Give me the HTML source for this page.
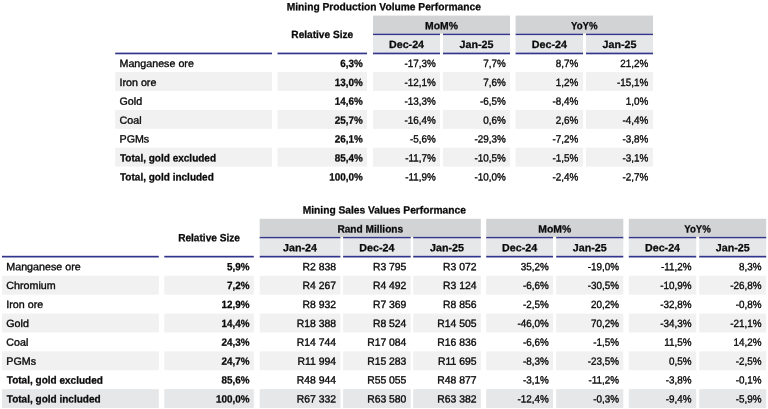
<!DOCTYPE html>
<html><head><meta charset="utf-8"><title>Mining Performance</title>
<style>
html,body{margin:0;padding:0;background:#fff;}
body{width:768px;height:409px;overflow:hidden;}
svg{display:block;filter:blur(0.3px);font-family:"Liberation Sans",sans-serif;fill:#0a0a0a;}
text{stroke:#0a0a0a;stroke-width:0.36px;stroke-linejoin:round;}
text.b{font-weight:700;stroke-width:0.28px;}
</style></head><body>
<svg width="768" height="409" viewBox="0 0 768 409">
<text transform="translate(383.80 10.30) rotate(0.03) scale(0.975 1)" text-anchor="middle" font-size="10.5" class="b">Mining Production Volume Performance</text>
<rect x="115.20" y="52.60" width="156.80" height="1.70" fill="#33358b"/>
<rect x="277.50" y="52.60" width="89.50" height="1.70" fill="#33358b"/>
<text transform="translate(322.25 38.05) rotate(0.03) scale(0.965 1)" text-anchor="middle" font-size="10.5" class="b">Relative Size</text>
<rect x="373.00" y="15.60" width="137.00" height="18.05" fill="#d1d3d4"/>
<text transform="translate(441.50 29.30) rotate(0.03) scale(0.99 1)" text-anchor="middle" font-size="10.5" class="b">MoM%</text>
<rect x="373.00" y="33.65" width="67.00" height="1.70" fill="#33358b"/>
<rect x="373.00" y="35.35" width="67.00" height="17.25" fill="#e6e7e8"/>
<rect x="373.00" y="52.60" width="67.00" height="1.70" fill="#33358b"/>
<text transform="translate(406.50 48.10) rotate(0.03) scale(1.02 1)" text-anchor="middle" font-size="10.5" class="b">Dec-24</text>
<rect x="443.00" y="33.65" width="67.00" height="1.70" fill="#33358b"/>
<rect x="443.00" y="35.35" width="67.00" height="17.25" fill="#e6e7e8"/>
<rect x="443.00" y="52.60" width="67.00" height="1.70" fill="#33358b"/>
<text transform="translate(476.50 48.10) rotate(0.03) scale(1.02 1)" text-anchor="middle" font-size="10.5" class="b">Jan-25</text>
<rect x="515.60" y="15.60" width="137.40" height="18.05" fill="#d1d3d4"/>
<text transform="translate(584.30 29.30) rotate(0.03) scale(0.92 1)" text-anchor="middle" font-size="10.5" class="b">YoY%</text>
<rect x="515.60" y="33.65" width="67.40" height="1.70" fill="#33358b"/>
<rect x="515.60" y="35.35" width="67.40" height="17.25" fill="#e6e7e8"/>
<rect x="515.60" y="52.60" width="67.40" height="1.70" fill="#33358b"/>
<text transform="translate(549.30 48.10) rotate(0.03) scale(1.02 1)" text-anchor="middle" font-size="10.5" class="b">Dec-24</text>
<rect x="586.00" y="33.65" width="67.00" height="1.70" fill="#33358b"/>
<rect x="586.00" y="35.35" width="67.00" height="17.25" fill="#e6e7e8"/>
<rect x="586.00" y="52.60" width="67.00" height="1.70" fill="#33358b"/>
<text transform="translate(619.50 48.10) rotate(0.03) scale(1.02 1)" text-anchor="middle" font-size="10.5" class="b">Jan-25</text>
<text transform="translate(119.50 67.00) rotate(0.03) scale(1.02 1)" text-anchor="start" font-size="10.5">Manganese ore</text>
<text transform="translate(362.70 67.00) rotate(0.03) scale(0.94 1)" text-anchor="end" font-size="10.5" class="b">6,3%</text>
<text transform="translate(435.70 67.00) rotate(0.03) scale(0.94 1)" text-anchor="end" font-size="10.5">-17,3%</text>
<text transform="translate(505.70 67.00) rotate(0.03) scale(0.94 1)" text-anchor="end" font-size="10.5">7,7%</text>
<text transform="translate(578.20 67.00) rotate(0.03) scale(0.94 1)" text-anchor="end" font-size="10.5">8,7%</text>
<text transform="translate(648.20 67.00) rotate(0.03) scale(0.94 1)" text-anchor="end" font-size="10.5">21,2%</text>
<rect x="115.20" y="72.10" width="156.80" height="18.90" fill="#f1f1f1"/>
<rect x="277.50" y="72.10" width="89.50" height="18.90" fill="#f1f1f1"/>
<rect x="373.00" y="72.10" width="67.00" height="18.90" fill="#f1f1f1"/>
<rect x="443.00" y="72.10" width="67.00" height="18.90" fill="#f1f1f1"/>
<rect x="515.60" y="72.10" width="67.40" height="18.90" fill="#f1f1f1"/>
<rect x="586.00" y="72.10" width="67.00" height="18.90" fill="#f1f1f1"/>
<text transform="translate(119.50 85.90) rotate(0.03) scale(1.02 1)" text-anchor="start" font-size="10.5">Iron ore</text>
<text transform="translate(362.70 85.90) rotate(0.03) scale(0.94 1)" text-anchor="end" font-size="10.5" class="b">13,0%</text>
<text transform="translate(435.70 85.90) rotate(0.03) scale(0.94 1)" text-anchor="end" font-size="10.5">-12,1%</text>
<text transform="translate(505.70 85.90) rotate(0.03) scale(0.94 1)" text-anchor="end" font-size="10.5">7,6%</text>
<text transform="translate(578.20 85.90) rotate(0.03) scale(0.94 1)" text-anchor="end" font-size="10.5">1,2%</text>
<text transform="translate(648.20 85.90) rotate(0.03) scale(0.94 1)" text-anchor="end" font-size="10.5">-15,1%</text>
<text transform="translate(119.50 104.80) rotate(0.03) scale(1.02 1)" text-anchor="start" font-size="10.5">Gold</text>
<text transform="translate(362.70 104.80) rotate(0.03) scale(0.94 1)" text-anchor="end" font-size="10.5" class="b">14,6%</text>
<text transform="translate(435.70 104.80) rotate(0.03) scale(0.94 1)" text-anchor="end" font-size="10.5">-13,3%</text>
<text transform="translate(505.70 104.80) rotate(0.03) scale(0.94 1)" text-anchor="end" font-size="10.5">-6,5%</text>
<text transform="translate(578.20 104.80) rotate(0.03) scale(0.94 1)" text-anchor="end" font-size="10.5">-8,4%</text>
<text transform="translate(648.20 104.80) rotate(0.03) scale(0.94 1)" text-anchor="end" font-size="10.5">1,0%</text>
<rect x="115.20" y="109.90" width="156.80" height="18.90" fill="#f1f1f1"/>
<rect x="277.50" y="109.90" width="89.50" height="18.90" fill="#f1f1f1"/>
<rect x="373.00" y="109.90" width="67.00" height="18.90" fill="#f1f1f1"/>
<rect x="443.00" y="109.90" width="67.00" height="18.90" fill="#f1f1f1"/>
<rect x="515.60" y="109.90" width="67.40" height="18.90" fill="#f1f1f1"/>
<rect x="586.00" y="109.90" width="67.00" height="18.90" fill="#f1f1f1"/>
<text transform="translate(119.50 123.70) rotate(0.03) scale(1.02 1)" text-anchor="start" font-size="10.5">Coal</text>
<text transform="translate(362.70 123.70) rotate(0.03) scale(0.94 1)" text-anchor="end" font-size="10.5" class="b">25,7%</text>
<text transform="translate(435.70 123.70) rotate(0.03) scale(0.94 1)" text-anchor="end" font-size="10.5">-16,4%</text>
<text transform="translate(505.70 123.70) rotate(0.03) scale(0.94 1)" text-anchor="end" font-size="10.5">0,6%</text>
<text transform="translate(578.20 123.70) rotate(0.03) scale(0.94 1)" text-anchor="end" font-size="10.5">2,6%</text>
<text transform="translate(648.20 123.70) rotate(0.03) scale(0.94 1)" text-anchor="end" font-size="10.5">-4,4%</text>
<text transform="translate(119.50 142.60) rotate(0.03) scale(1.02 1)" text-anchor="start" font-size="10.5">PGMs</text>
<text transform="translate(362.70 142.60) rotate(0.03) scale(0.94 1)" text-anchor="end" font-size="10.5" class="b">26,1%</text>
<text transform="translate(435.70 142.60) rotate(0.03) scale(0.94 1)" text-anchor="end" font-size="10.5">-5,6%</text>
<text transform="translate(505.70 142.60) rotate(0.03) scale(0.94 1)" text-anchor="end" font-size="10.5">-29,3%</text>
<text transform="translate(578.20 142.60) rotate(0.03) scale(0.94 1)" text-anchor="end" font-size="10.5">-7,2%</text>
<text transform="translate(648.20 142.60) rotate(0.03) scale(0.94 1)" text-anchor="end" font-size="10.5">-3,8%</text>
<rect x="115.20" y="147.70" width="156.80" height="18.90" fill="#f1f1f1"/>
<rect x="277.50" y="147.70" width="89.50" height="18.90" fill="#f1f1f1"/>
<rect x="373.00" y="147.70" width="67.00" height="18.90" fill="#f1f1f1"/>
<rect x="443.00" y="147.70" width="67.00" height="18.90" fill="#f1f1f1"/>
<rect x="515.60" y="147.70" width="67.40" height="18.90" fill="#f1f1f1"/>
<rect x="586.00" y="147.70" width="67.00" height="18.90" fill="#f1f1f1"/>
<text transform="translate(120.00 161.50) rotate(0.03) scale(0.955 1)" text-anchor="start" font-size="10.5" class="b">Total, gold excluded</text>
<text transform="translate(362.70 161.50) rotate(0.03) scale(0.94 1)" text-anchor="end" font-size="10.5" class="b">85,4%</text>
<text transform="translate(435.70 161.50) rotate(0.03) scale(0.94 1)" text-anchor="end" font-size="10.5">-11,7%</text>
<text transform="translate(505.70 161.50) rotate(0.03) scale(0.94 1)" text-anchor="end" font-size="10.5">-10,5%</text>
<text transform="translate(578.20 161.50) rotate(0.03) scale(0.94 1)" text-anchor="end" font-size="10.5">-1,5%</text>
<text transform="translate(648.20 161.50) rotate(0.03) scale(0.94 1)" text-anchor="end" font-size="10.5">-3,1%</text>
<text transform="translate(120.00 180.40) rotate(0.03) scale(0.955 1)" text-anchor="start" font-size="10.5" class="b">Total, gold included</text>
<text transform="translate(362.70 180.40) rotate(0.03) scale(0.94 1)" text-anchor="end" font-size="10.5" class="b">100,0%</text>
<text transform="translate(435.70 180.40) rotate(0.03) scale(0.94 1)" text-anchor="end" font-size="10.5">-11,9%</text>
<text transform="translate(505.70 180.40) rotate(0.03) scale(0.94 1)" text-anchor="end" font-size="10.5">-10,0%</text>
<text transform="translate(578.20 180.40) rotate(0.03) scale(0.94 1)" text-anchor="end" font-size="10.5">-2,4%</text>
<text transform="translate(648.20 180.40) rotate(0.03) scale(0.94 1)" text-anchor="end" font-size="10.5">-2,7%</text>
<text transform="translate(384.30 213.50) rotate(0.03) scale(0.975 1)" text-anchor="middle" font-size="10.5" class="b">Mining Sales Values Performance</text>
<rect x="2.00" y="255.80" width="156.80" height="1.70" fill="#33358b"/>
<rect x="164.30" y="255.80" width="89.50" height="1.70" fill="#33358b"/>
<text transform="translate(209.05 241.25) rotate(0.03) scale(0.965 1)" text-anchor="middle" font-size="10.5" class="b">Relative Size</text>
<rect x="259.70" y="218.80" width="221.10" height="18.05" fill="#d1d3d4"/>
<text transform="translate(370.25 232.50) rotate(0.03) scale(0.965 1)" text-anchor="middle" font-size="10.5" class="b">Rand Millions</text>
<rect x="259.70" y="236.85" width="80.70" height="1.70" fill="#33358b"/>
<rect x="259.70" y="238.55" width="80.70" height="17.25" fill="#e6e7e8"/>
<rect x="259.70" y="255.80" width="80.70" height="1.70" fill="#33358b"/>
<text transform="translate(300.05 251.30) rotate(0.03) scale(1.02 1)" text-anchor="middle" font-size="10.5" class="b">Jan-24</text>
<rect x="343.10" y="236.85" width="67.60" height="1.70" fill="#33358b"/>
<rect x="343.10" y="238.55" width="67.60" height="17.25" fill="#e6e7e8"/>
<rect x="343.10" y="255.80" width="67.60" height="1.70" fill="#33358b"/>
<text transform="translate(376.90 251.30) rotate(0.03) scale(1.02 1)" text-anchor="middle" font-size="10.5" class="b">Dec-24</text>
<rect x="413.20" y="236.85" width="67.60" height="1.70" fill="#33358b"/>
<rect x="413.20" y="238.55" width="67.60" height="17.25" fill="#e6e7e8"/>
<rect x="413.20" y="255.80" width="67.60" height="1.70" fill="#33358b"/>
<text transform="translate(447.00 251.30) rotate(0.03) scale(1.02 1)" text-anchor="middle" font-size="10.5" class="b">Jan-25</text>
<rect x="486.20" y="218.80" width="137.10" height="18.05" fill="#d1d3d4"/>
<text transform="translate(554.75 232.50) rotate(0.03) scale(0.99 1)" text-anchor="middle" font-size="10.5" class="b">MoM%</text>
<rect x="486.20" y="236.85" width="66.80" height="1.70" fill="#33358b"/>
<rect x="486.20" y="238.55" width="66.80" height="17.25" fill="#e6e7e8"/>
<rect x="486.20" y="255.80" width="66.80" height="1.70" fill="#33358b"/>
<text transform="translate(519.60 251.30) rotate(0.03) scale(1.02 1)" text-anchor="middle" font-size="10.5" class="b">Dec-24</text>
<rect x="556.20" y="236.85" width="67.10" height="1.70" fill="#33358b"/>
<rect x="556.20" y="238.55" width="67.10" height="17.25" fill="#e6e7e8"/>
<rect x="556.20" y="255.80" width="67.10" height="1.70" fill="#33358b"/>
<text transform="translate(589.75 251.30) rotate(0.03) scale(1.02 1)" text-anchor="middle" font-size="10.5" class="b">Jan-25</text>
<rect x="628.80" y="218.80" width="137.40" height="18.05" fill="#d1d3d4"/>
<text transform="translate(697.50 232.50) rotate(0.03) scale(0.92 1)" text-anchor="middle" font-size="10.5" class="b">YoY%</text>
<rect x="628.80" y="236.85" width="67.40" height="1.70" fill="#33358b"/>
<rect x="628.80" y="238.55" width="67.40" height="17.25" fill="#e6e7e8"/>
<rect x="628.80" y="255.80" width="67.40" height="1.70" fill="#33358b"/>
<text transform="translate(662.50 251.30) rotate(0.03) scale(1.02 1)" text-anchor="middle" font-size="10.5" class="b">Dec-24</text>
<rect x="699.20" y="236.85" width="67.00" height="1.70" fill="#33358b"/>
<rect x="699.20" y="238.55" width="67.00" height="17.25" fill="#e6e7e8"/>
<rect x="699.20" y="255.80" width="67.00" height="1.70" fill="#33358b"/>
<text transform="translate(732.70 251.30) rotate(0.03) scale(1.02 1)" text-anchor="middle" font-size="10.5" class="b">Jan-25</text>
<text transform="translate(6.30 270.20) rotate(0.03) scale(1.02 1)" text-anchor="start" font-size="10.5">Manganese ore</text>
<text transform="translate(249.50 270.20) rotate(0.03) scale(0.94 1)" text-anchor="end" font-size="10.5" class="b">5,9%</text>
<text transform="translate(336.10 270.20) rotate(0.03) scale(0.99 1)" text-anchor="end" font-size="10.5">R2 838</text>
<text transform="translate(406.40 270.20) rotate(0.03) scale(0.99 1)" text-anchor="end" font-size="10.5">R3 795</text>
<text transform="translate(476.50 270.20) rotate(0.03) scale(0.99 1)" text-anchor="end" font-size="10.5">R3 072</text>
<text transform="translate(548.70 270.20) rotate(0.03) scale(0.94 1)" text-anchor="end" font-size="10.5">35,2%</text>
<text transform="translate(619.00 270.20) rotate(0.03) scale(0.94 1)" text-anchor="end" font-size="10.5">-19,0%</text>
<text transform="translate(691.40 270.20) rotate(0.03) scale(0.94 1)" text-anchor="end" font-size="10.5">-11,2%</text>
<text transform="translate(761.40 270.20) rotate(0.03) scale(0.94 1)" text-anchor="end" font-size="10.5">8,3%</text>
<rect x="2.00" y="275.75" width="156.80" height="18.90" fill="#f1f1f1"/>
<rect x="164.30" y="275.75" width="89.50" height="18.90" fill="#f1f1f1"/>
<rect x="259.70" y="275.75" width="80.70" height="18.90" fill="#f1f1f1"/>
<rect x="343.10" y="275.75" width="67.60" height="18.90" fill="#f1f1f1"/>
<rect x="413.20" y="275.75" width="67.60" height="18.90" fill="#f1f1f1"/>
<rect x="486.20" y="275.75" width="66.80" height="18.90" fill="#f1f1f1"/>
<rect x="556.20" y="275.75" width="67.10" height="18.90" fill="#f1f1f1"/>
<rect x="628.80" y="275.75" width="67.40" height="18.90" fill="#f1f1f1"/>
<rect x="699.20" y="275.75" width="67.00" height="18.90" fill="#f1f1f1"/>
<text transform="translate(6.30 289.10) rotate(0.03) scale(1.02 1)" text-anchor="start" font-size="10.5">Chromium</text>
<text transform="translate(249.50 289.10) rotate(0.03) scale(0.94 1)" text-anchor="end" font-size="10.5" class="b">7,2%</text>
<text transform="translate(336.10 289.10) rotate(0.03) scale(0.99 1)" text-anchor="end" font-size="10.5">R4 267</text>
<text transform="translate(406.40 289.10) rotate(0.03) scale(0.99 1)" text-anchor="end" font-size="10.5">R4 492</text>
<text transform="translate(476.50 289.10) rotate(0.03) scale(0.99 1)" text-anchor="end" font-size="10.5">R3 124</text>
<text transform="translate(548.70 289.10) rotate(0.03) scale(0.94 1)" text-anchor="end" font-size="10.5">-6,6%</text>
<text transform="translate(619.00 289.10) rotate(0.03) scale(0.94 1)" text-anchor="end" font-size="10.5">-30,5%</text>
<text transform="translate(691.40 289.10) rotate(0.03) scale(0.94 1)" text-anchor="end" font-size="10.5">-10,9%</text>
<text transform="translate(761.40 289.10) rotate(0.03) scale(0.94 1)" text-anchor="end" font-size="10.5">-26,8%</text>
<text transform="translate(6.30 308.00) rotate(0.03) scale(1.02 1)" text-anchor="start" font-size="10.5">Iron ore</text>
<text transform="translate(249.50 308.00) rotate(0.03) scale(0.94 1)" text-anchor="end" font-size="10.5" class="b">12,9%</text>
<text transform="translate(336.10 308.00) rotate(0.03) scale(0.99 1)" text-anchor="end" font-size="10.5">R8 932</text>
<text transform="translate(406.40 308.00) rotate(0.03) scale(0.99 1)" text-anchor="end" font-size="10.5">R7 369</text>
<text transform="translate(476.50 308.00) rotate(0.03) scale(0.99 1)" text-anchor="end" font-size="10.5">R8 856</text>
<text transform="translate(548.70 308.00) rotate(0.03) scale(0.94 1)" text-anchor="end" font-size="10.5">-2,5%</text>
<text transform="translate(619.00 308.00) rotate(0.03) scale(0.94 1)" text-anchor="end" font-size="10.5">20,2%</text>
<text transform="translate(691.40 308.00) rotate(0.03) scale(0.94 1)" text-anchor="end" font-size="10.5">-32,8%</text>
<text transform="translate(761.40 308.00) rotate(0.03) scale(0.94 1)" text-anchor="end" font-size="10.5">-0,8%</text>
<rect x="2.00" y="313.55" width="156.80" height="18.90" fill="#f1f1f1"/>
<rect x="164.30" y="313.55" width="89.50" height="18.90" fill="#f1f1f1"/>
<rect x="259.70" y="313.55" width="80.70" height="18.90" fill="#f1f1f1"/>
<rect x="343.10" y="313.55" width="67.60" height="18.90" fill="#f1f1f1"/>
<rect x="413.20" y="313.55" width="67.60" height="18.90" fill="#f1f1f1"/>
<rect x="486.20" y="313.55" width="66.80" height="18.90" fill="#f1f1f1"/>
<rect x="556.20" y="313.55" width="67.10" height="18.90" fill="#f1f1f1"/>
<rect x="628.80" y="313.55" width="67.40" height="18.90" fill="#f1f1f1"/>
<rect x="699.20" y="313.55" width="67.00" height="18.90" fill="#f1f1f1"/>
<text transform="translate(6.30 326.90) rotate(0.03) scale(1.02 1)" text-anchor="start" font-size="10.5">Gold</text>
<text transform="translate(249.50 326.90) rotate(0.03) scale(0.94 1)" text-anchor="end" font-size="10.5" class="b">14,4%</text>
<text transform="translate(336.10 326.90) rotate(0.03) scale(0.99 1)" text-anchor="end" font-size="10.5">R18 388</text>
<text transform="translate(406.40 326.90) rotate(0.03) scale(0.99 1)" text-anchor="end" font-size="10.5">R8 524</text>
<text transform="translate(476.50 326.90) rotate(0.03) scale(0.99 1)" text-anchor="end" font-size="10.5">R14 505</text>
<text transform="translate(548.70 326.90) rotate(0.03) scale(0.94 1)" text-anchor="end" font-size="10.5">-46,0%</text>
<text transform="translate(619.00 326.90) rotate(0.03) scale(0.94 1)" text-anchor="end" font-size="10.5">70,2%</text>
<text transform="translate(691.40 326.90) rotate(0.03) scale(0.94 1)" text-anchor="end" font-size="10.5">-34,3%</text>
<text transform="translate(761.40 326.90) rotate(0.03) scale(0.94 1)" text-anchor="end" font-size="10.5">-21,1%</text>
<text transform="translate(6.30 345.80) rotate(0.03) scale(1.02 1)" text-anchor="start" font-size="10.5">Coal</text>
<text transform="translate(249.50 345.80) rotate(0.03) scale(0.94 1)" text-anchor="end" font-size="10.5" class="b">24,3%</text>
<text transform="translate(336.10 345.80) rotate(0.03) scale(0.99 1)" text-anchor="end" font-size="10.5">R14 744</text>
<text transform="translate(406.40 345.80) rotate(0.03) scale(0.99 1)" text-anchor="end" font-size="10.5">R17 084</text>
<text transform="translate(476.50 345.80) rotate(0.03) scale(0.99 1)" text-anchor="end" font-size="10.5">R16 836</text>
<text transform="translate(548.70 345.80) rotate(0.03) scale(0.94 1)" text-anchor="end" font-size="10.5">-6,6%</text>
<text transform="translate(619.00 345.80) rotate(0.03) scale(0.94 1)" text-anchor="end" font-size="10.5">-1,5%</text>
<text transform="translate(691.40 345.80) rotate(0.03) scale(0.94 1)" text-anchor="end" font-size="10.5">11,5%</text>
<text transform="translate(761.40 345.80) rotate(0.03) scale(0.94 1)" text-anchor="end" font-size="10.5">14,2%</text>
<rect x="2.00" y="351.35" width="156.80" height="18.90" fill="#f1f1f1"/>
<rect x="164.30" y="351.35" width="89.50" height="18.90" fill="#f1f1f1"/>
<rect x="259.70" y="351.35" width="80.70" height="18.90" fill="#f1f1f1"/>
<rect x="343.10" y="351.35" width="67.60" height="18.90" fill="#f1f1f1"/>
<rect x="413.20" y="351.35" width="67.60" height="18.90" fill="#f1f1f1"/>
<rect x="486.20" y="351.35" width="66.80" height="18.90" fill="#f1f1f1"/>
<rect x="556.20" y="351.35" width="67.10" height="18.90" fill="#f1f1f1"/>
<rect x="628.80" y="351.35" width="67.40" height="18.90" fill="#f1f1f1"/>
<rect x="699.20" y="351.35" width="67.00" height="18.90" fill="#f1f1f1"/>
<text transform="translate(6.30 364.70) rotate(0.03) scale(1.02 1)" text-anchor="start" font-size="10.5">PGMs</text>
<text transform="translate(249.50 364.70) rotate(0.03) scale(0.94 1)" text-anchor="end" font-size="10.5" class="b">24,7%</text>
<text transform="translate(336.10 364.70) rotate(0.03) scale(0.99 1)" text-anchor="end" font-size="10.5">R11 994</text>
<text transform="translate(406.40 364.70) rotate(0.03) scale(0.99 1)" text-anchor="end" font-size="10.5">R15 283</text>
<text transform="translate(476.50 364.70) rotate(0.03) scale(0.99 1)" text-anchor="end" font-size="10.5">R11 695</text>
<text transform="translate(548.70 364.70) rotate(0.03) scale(0.94 1)" text-anchor="end" font-size="10.5">-8,3%</text>
<text transform="translate(619.00 364.70) rotate(0.03) scale(0.94 1)" text-anchor="end" font-size="10.5">-23,5%</text>
<text transform="translate(691.40 364.70) rotate(0.03) scale(0.94 1)" text-anchor="end" font-size="10.5">0,5%</text>
<text transform="translate(761.40 364.70) rotate(0.03) scale(0.94 1)" text-anchor="end" font-size="10.5">-2,5%</text>
<text transform="translate(6.80 383.60) rotate(0.03) scale(0.955 1)" text-anchor="start" font-size="10.5" class="b">Total, gold excluded</text>
<text transform="translate(249.50 383.60) rotate(0.03) scale(0.94 1)" text-anchor="end" font-size="10.5" class="b">85,6%</text>
<text transform="translate(336.10 383.60) rotate(0.03) scale(0.99 1)" text-anchor="end" font-size="10.5">R48 944</text>
<text transform="translate(406.40 383.60) rotate(0.03) scale(0.99 1)" text-anchor="end" font-size="10.5">R55 055</text>
<text transform="translate(476.50 383.60) rotate(0.03) scale(0.99 1)" text-anchor="end" font-size="10.5">R48 877</text>
<text transform="translate(548.70 383.60) rotate(0.03) scale(0.94 1)" text-anchor="end" font-size="10.5">-3,1%</text>
<text transform="translate(619.00 383.60) rotate(0.03) scale(0.94 1)" text-anchor="end" font-size="10.5">-11,2%</text>
<text transform="translate(691.40 383.60) rotate(0.03) scale(0.94 1)" text-anchor="end" font-size="10.5">-3,8%</text>
<text transform="translate(761.40 383.60) rotate(0.03) scale(0.94 1)" text-anchor="end" font-size="10.5">-0,1%</text>
<rect x="2.00" y="389.15" width="156.80" height="18.90" fill="#e6e7e8"/>
<rect x="164.30" y="389.15" width="89.50" height="18.90" fill="#e6e7e8"/>
<rect x="259.70" y="389.15" width="80.70" height="18.90" fill="#e6e7e8"/>
<rect x="343.10" y="389.15" width="67.60" height="18.90" fill="#e6e7e8"/>
<rect x="413.20" y="389.15" width="67.60" height="18.90" fill="#e6e7e8"/>
<rect x="486.20" y="389.15" width="66.80" height="18.90" fill="#e6e7e8"/>
<rect x="556.20" y="389.15" width="67.10" height="18.90" fill="#e6e7e8"/>
<rect x="628.80" y="389.15" width="67.40" height="18.90" fill="#e6e7e8"/>
<rect x="699.20" y="389.15" width="67.00" height="18.90" fill="#e6e7e8"/>
<text transform="translate(6.80 402.50) rotate(0.03) scale(0.955 1)" text-anchor="start" font-size="10.5" class="b">Total, gold included</text>
<text transform="translate(249.50 402.50) rotate(0.03) scale(0.94 1)" text-anchor="end" font-size="10.5" class="b">100,0%</text>
<text transform="translate(336.10 402.50) rotate(0.03) scale(0.99 1)" text-anchor="end" font-size="10.5">R67 332</text>
<text transform="translate(406.40 402.50) rotate(0.03) scale(0.99 1)" text-anchor="end" font-size="10.5">R63 580</text>
<text transform="translate(476.50 402.50) rotate(0.03) scale(0.99 1)" text-anchor="end" font-size="10.5">R63 382</text>
<text transform="translate(548.70 402.50) rotate(0.03) scale(0.94 1)" text-anchor="end" font-size="10.5">-12,4%</text>
<text transform="translate(619.00 402.50) rotate(0.03) scale(0.94 1)" text-anchor="end" font-size="10.5">-0,3%</text>
<text transform="translate(691.40 402.50) rotate(0.03) scale(0.94 1)" text-anchor="end" font-size="10.5">-9,4%</text>
<text transform="translate(761.40 402.50) rotate(0.03) scale(0.94 1)" text-anchor="end" font-size="10.5">-5,9%</text>
</svg>
</body></html>
